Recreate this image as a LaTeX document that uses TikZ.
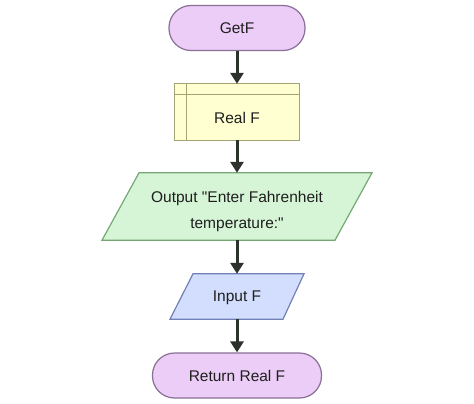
\documentclass[tikz,border=0pt]{standalone}
\usepackage{fontspec}
\setmainfont{Liberation Sans}
\usetikzlibrary{arrows.meta}
\definecolor{termfill}{HTML}{EBCDF7}
\definecolor{termline}{HTML}{8A6F96}
\definecolor{procfill}{HTML}{FFFFD2}
\definecolor{procline}{HTML}{A3A374}
\definecolor{outfill}{HTML}{D6F5D6}
\definecolor{outline}{HTML}{75A875}
\definecolor{infill}{HTML}{D3DDFD}
\definecolor{inline}{HTML}{7281B5}
\definecolor{arrowcol}{HTML}{2B332B}
\tikzset{
  txt/.style={font=\fontsize{15.5}{26}\selectfont, text=black!88, align=center, inner sep=0pt},
  term/.style={txt, draw=termline, fill=termfill, line width=1.2pt, rounded corners=22pt},
  box/.style={draw=none, inner sep=0pt},
  flow/.style={draw=arrowcol, line width=3pt, -{Triangle[length=11pt,width=13pt]}},
}
\begin{document}
\begin{tikzpicture}[x=1pt,y=-1pt]
\useasboundingbox (0,0) rectangle (474,404);
\fill[white] (0,0) rectangle (474,404);
% GetF terminal
\node[term, minimum width=136pt, minimum height=45pt] (getf) at (237,28) {GetF};
% Real F predefined process
\node[box, minimum width=124pt, minimum height=56pt] (real) at (237,112) {};
\draw[draw=procline, fill=procfill, line width=1.2pt] (real.south west) rectangle (real.north east);
\draw[draw=procline, line width=1.2pt] ([xshift=12pt]real.north west) -- ([xshift=12pt]real.south west);
\draw[draw=procline, line width=1.2pt] ([yshift=-11pt]real.north west) -- ([yshift=-11pt]real.north east);
\node[txt] (realtxt) at (237,118) {Real F};
% Output parallelogram
\node[box, minimum width=234pt, minimum height=67pt] (out) at (237,206.5) {};
\draw[draw=outline, fill=outfill, line width=1.2pt]
  ([xshift=-98pt]out.north) -- ([xshift=135pt]out.north) -- ([xshift=98pt]out.south) -- ([xshift=-135pt]out.south) -- cycle;
\node[txt] (outtxt) at (237,211) {Output \textquotedbl Enter Fahrenheit\\temperature:\textquotedbl};
% Input parallelogram
\node[box, minimum width=111pt, minimum height=45pt] (in) at (237,296.5) {};
\draw[draw=inline, fill=infill, line width=1.2pt]
  ([xshift=-44pt]in.north) -- ([xshift=67pt]in.north) -- ([xshift=46pt]in.south) -- ([xshift=-67pt]in.south) -- cycle;
\node[txt] (intxt) at (237,298) {Input F};
% Return terminal
\node[term, minimum width=169pt, minimum height=45pt] (ret) at (237,375.5) {Return Real F};
% connectors
\draw[flow] (getf.south) -- (real.north);
\draw[flow] (real.south) -- (out.north);
\draw[flow] (out.south) -- (in.north);
\draw[flow] (in.south) -- (ret.north);
\end{tikzpicture}
\end{document}
